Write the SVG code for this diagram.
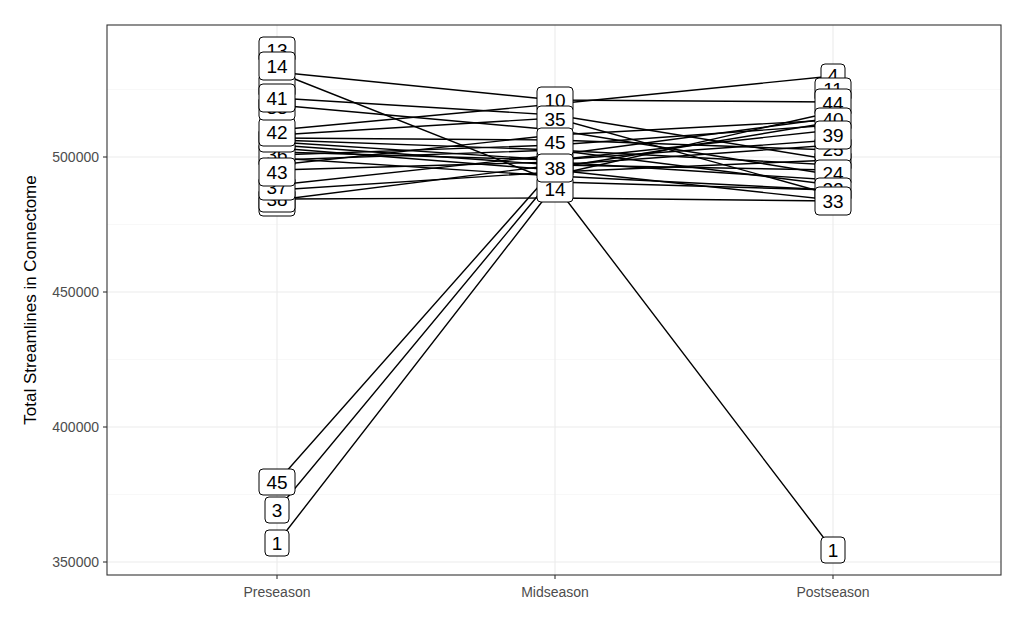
<svg xmlns="http://www.w3.org/2000/svg" width="1024" height="621" viewBox="0 0 1024 621">
<style>
.maj{stroke:#EBEBEB;stroke-width:1.1}
.min{stroke:#F3F3F3;stroke-width:0.6}
.tk{font-family:"Liberation Sans",Arial,sans-serif;font-size:14px;fill:#4D4D4D}
.ln{fill:none;stroke:#000;stroke-width:1.4}
.lb rect{fill:#fff;stroke:#000;stroke-width:1}
.lb text{font-family:"Liberation Sans",Arial,sans-serif;font-size:19px;fill:#000;text-anchor:middle}
</style>
<rect width="1024" height="621" fill="#fff"/>
<g id="grid">
<line class="min" x1="107" x2="1001" y1="494.5" y2="494.5"/>
<line class="min" x1="107" x2="1001" y1="359.5" y2="359.5"/>
<line class="min" x1="107" x2="1001" y1="224.5" y2="224.5"/>
<line class="min" x1="107" x2="1001" y1="89.5" y2="89.5"/>
<line class="maj" x1="107" x2="1001" y1="562" y2="562"/>
<line class="maj" x1="107" x2="1001" y1="427" y2="427"/>
<line class="maj" x1="107" x2="1001" y1="292" y2="292"/>
<line class="maj" x1="107" x2="1001" y1="157" y2="157"/>
<line class="maj" x1="277" x2="277" y1="25" y2="575"/>
<line class="maj" x1="555" x2="555" y1="25" y2="575"/>
<line class="maj" x1="833" x2="833" y1="25" y2="575"/>
</g>
<g id="connectors">
<polyline class="ln" points="277,543 555,185 833,550"/>
<polyline class="ln" points="277,510 555,175 833,112"/>
<polyline class="ln" points="277,482 555,168 833,122"/>
<polyline class="ln" points="277,72 555,100 833,102"/>
<polyline class="ln" points="277,72 555,182 833,190"/>
<polyline class="ln" points="277,98 555,115 833,160"/>
<polyline class="ln" points="277,105 555,130 833,175"/>
<polyline class="ln" points="277,130 555,104 833,76"/>
<polyline class="ln" points="277,135 555,118 833,195"/>
<polyline class="ln" points="277,138 555,140 833,150"/>
<polyline class="ln" points="277,140 555,150 833,185"/>
<polyline class="ln" points="277,142 555,160 833,130"/>
<polyline class="ln" points="277,145 555,165 833,170"/>
<polyline class="ln" points="277,148 555,170 833,200"/>
<polyline class="ln" points="277,152 555,160 833,140"/>
<polyline class="ln" points="277,155 555,145 833,125"/>
<polyline class="ln" points="277,160 555,150 833,165"/>
<polyline class="ln" points="277,165 555,135 833,120"/>
<polyline class="ln" points="277,170 555,162 833,180"/>
<polyline class="ln" points="277,185 555,155 833,118"/>
<polyline class="ln" points="277,190 555,172 833,160"/>
<polyline class="ln" points="277,199 555,198 833,201"/>
<polyline class="ln" points="277,200 555,165 833,145"/>
<polyline class="ln" points="277,158 555,176 833,190"/>
</g>
<g id="pre-labels" class="lb">
<g id="p-b1"><rect x="259" y="194" width="36" height="22" rx="4"/></g>
<g id="p-38"><rect x="259" y="188" width="36" height="24" rx="4"/><text x="277" y="206">38</text></g>
<g id="p-37"><rect x="259" y="176" width="36" height="24" rx="4"/><text x="277" y="194">37</text></g>
<g id="p-b2"><rect x="259" y="142" width="36" height="26" rx="4"/><text x="277" y="161">36</text></g>
<g id="p-43"><rect x="259" y="158" width="36" height="28" rx="4"/><text x="277" y="179">43</text></g>
<g id="p-b3"><rect x="259" y="128" width="36" height="24" rx="4"/><text x="277" y="146">33</text></g>
<g id="p-42"><rect x="259" y="118" width="36" height="28" rx="4"/><text x="277" y="139">42</text></g>
<g id="p-b4"><rect x="259" y="96" width="36" height="24" rx="4"/><text x="277" y="114">33</text></g>
<g id="p-b5"><rect x="259" y="74" width="36" height="24" rx="4"/></g>
<g id="p-41"><rect x="259" y="84" width="36" height="28" rx="4"/><text x="277" y="105">41</text></g>
<g id="p-13"><rect x="259" y="37" width="36" height="26" rx="4"/><text x="277" y="57">13</text></g>
<g id="p-14"><rect x="259" y="52" width="36" height="28" rx="4"/><text x="277" y="73">14</text></g>
<g id="p-45"><rect x="259" y="469" width="36" height="26" rx="4"/><text x="277" y="489">45</text></g>
<g id="p-3"><rect x="265" y="497" width="24" height="26" rx="4"/><text x="277" y="517">3</text></g>
<g id="p-1"><rect x="265" y="530" width="24" height="26" rx="4"/><text x="277" y="550">1</text></g>
</g>
<g id="mid-labels" class="lb">
<g id="m-14"><rect x="537" y="176" width="36" height="26" rx="4"/><text x="555" y="196">14</text></g>
<g id="m-10"><rect x="537" y="87" width="36" height="26" rx="4"/><text x="555" y="107">10</text></g>
<g id="m-35"><rect x="537" y="106" width="36" height="26" rx="4"/><text x="555" y="126">35</text></g>
<g id="m-b"><rect x="537" y="150" width="36" height="28" rx="4"/></g>
<g id="m-45"><rect x="537" y="128" width="36" height="28" rx="4"/><text x="555" y="149">45</text></g>
<g id="m-38"><rect x="537" y="154" width="36" height="28" rx="4"/><text x="555" y="175">38</text></g>
</g>
<g id="post-labels" class="lb">
<g id="q-4"><rect x="821" y="64" width="24" height="24" rx="4"/><text x="833" y="82">4</text></g>
<g id="q-11"><rect x="815" y="78" width="36" height="24" rx="4"/><text x="833" y="96">11</text></g>
<g id="q-44"><rect x="815" y="89" width="36" height="28" rx="4"/><text x="833" y="110">44</text></g>
<g id="q-b1"><rect x="815" y="108" width="36" height="24" rx="4"/><text x="833" y="126">40</text></g>
<g id="q-b2"><rect x="815" y="150" width="36" height="22" rx="4"/></g>
<g id="q-25"><rect x="815" y="136" width="36" height="26" rx="4"/><text x="833" y="156">25</text></g>
<g id="q-39"><rect x="815" y="121" width="36" height="28" rx="4"/><text x="833" y="142">39</text></g>
<g id="q-24"><rect x="815" y="160" width="36" height="26" rx="4"/><text x="833" y="180">24</text></g>
<g id="q-b3"><rect x="815" y="178" width="36" height="24" rx="4"/><text x="833" y="196">22</text></g>
<g id="q-33"><rect x="815" y="187" width="36" height="28" rx="4"/><text x="833" y="208">33</text></g>
<g id="q-1"><rect x="821" y="537" width="24" height="26" rx="4"/><text x="833" y="557">1</text></g>
</g>
<rect x="107" y="25" width="894" height="550" fill="none" stroke="#333" stroke-width="1.1"/>
<g id="axes">
<g stroke="#333" stroke-width="1.1">
<line x1="103" x2="107" y1="562" y2="562"/><line x1="103" x2="107" y1="427" y2="427"/><line x1="103" x2="107" y1="292" y2="292"/><line x1="103" x2="107" y1="157" y2="157"/>
<line x1="277" x2="277" y1="575" y2="579"/><line x1="555" x2="555" y1="575" y2="579"/><line x1="833" x2="833" y1="575" y2="579"/>
</g>
<text class="tk" x="99" y="567" text-anchor="end">350000</text>
<text class="tk" x="99" y="432" text-anchor="end">400000</text>
<text class="tk" x="99" y="297" text-anchor="end">450000</text>
<text class="tk" x="99" y="162" text-anchor="end">500000</text>
<text class="tk" x="277" y="597" text-anchor="middle">Preseason</text>
<text class="tk" x="555" y="597" text-anchor="middle">Midseason</text>
<text class="tk" x="833" y="597" text-anchor="middle">Postseason</text>
<text x="36" y="300" transform="rotate(-90 36 300)" text-anchor="middle" font-family="Liberation Sans,Arial,sans-serif" font-size="17" fill="#000">Total Streamlines in Connectome</text>
</g>
</svg>
